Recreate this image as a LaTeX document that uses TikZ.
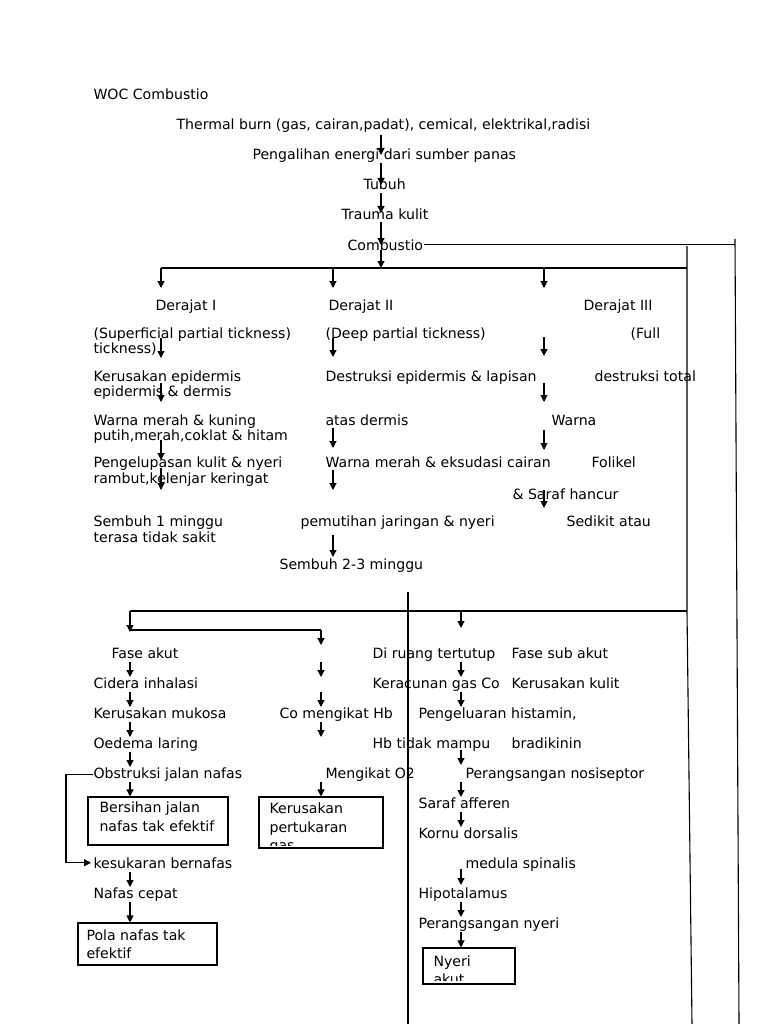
\documentclass[tikz,border=0pt]{standalone}
\usepackage{fontspec}
\setmainfont{DejaVu Sans}
\usetikzlibrary{arrows.meta,calc}
\tikzset{
>={Triangle[length=7pt,width=7pt]},
teks/.style={anchor=base west, inner sep=0pt, font=\fontsize{14.1}{16}\selectfont},
kotak/.style={draw, inner sep=0pt},
panah/.style={->, shorten <=4pt, shorten >=11pt},
}

\begin{document}
\begin{tikzpicture}[x=1pt,y=-1pt,line width=1.1pt]

    \fill[white] (0,0) rectangle (768,1024);
    \useasboundingbox (0,0) rectangle (768,1024);

    \coordinate (sumbu) at (381,0);
    \coordinate (kI) at (161,0);
    \coordinate (kII) at (333,0);
    \coordinate (kIII) at (544,0);
    \coordinate (kA) at (130,0);
    \coordinate (kB) at (321,0);
    \coordinate (kC) at (461,0);
    \coordinate (kanan) at (687,0);
    \coordinate (tepi) at (735,0);
    \coordinate (bus) at (381,268);
    \coordinate (bus2) at (130,611);
    \coordinate (simpang) at (130,630);

    % bagian atas
    \node[teks] (woc) at (93,100) {WOC Combustio};
    \node[teks] (thermal) at (176,130) {Thermal burn (gas, cairan,padat), cemical, elektrikal,radisi};
    \node[teks] (alih) at (252,160) {Pengalihan energi dari sumber panas};
    \node[teks] (tubuh) at (363,190) {Tubuh};
    \node[teks] (trauma) at (341,220) {Trauma kulit};
    \node[teks] (combustio) at (347,250) {Combustio};

    \draw[panah, shorten <=5pt, shorten >=5pt] (thermal.base -| sumbu) -- (alih.base -| sumbu);
    \draw[panah, shorten <=3pt, shorten >=5pt] (alih.base -| sumbu) -- (tubuh.base -| sumbu);
    \draw[panah, shorten <=3pt, shorten >=7pt] (tubuh.base -| sumbu) -- (trauma.base -| sumbu);
    \draw[panah, shorten <=2pt, shorten >=5pt] (trauma.base -| sumbu) -- (combustio.base -| sumbu);
    \draw[panah, shorten <=0pt, shorten >=0pt] (combustio.base -| sumbu) -- (bus);

    \draw (combustio.east) -- (combustio.east -| tepi);
    \draw (735,239) -- (739,1024);
    \draw (687,246) -- (687,611) -- (692,1024);
    \draw (bus -| kI) -- (bus -| kanan);

    % derajat luka bakar
    \node[teks] (d1) at (155,310) {Derajat I};
    \node[teks] (d2) at (328,310) {Derajat II};
    \node[teks] (d3) at (583,310) {Derajat III};

    \draw[panah, shorten <=0pt, shorten >=22pt] (bus -| kI) -- (d1.base -| kI);
    \draw[panah, shorten <=0pt, shorten >=22pt] (bus -| kII) -- (d2.base -| kII);
    \draw[panah, shorten <=0pt, shorten >=22pt] (bus -| kIII) -- (d3.base -| kIII);

    \node[teks] (sup) at (93,338) {(Superficial partial tickness)};
    \node[teks] (sup2) at (93,353) {tickness)};
    \node[teks] (deep) at (325,338) {(Deep partial tickness)};
    \node[teks] (full) at (630,338) {(Full};
    \node[teks] (ker1) at (93,381) {Kerusakan epidermis};
    \node[teks] (ker2) at (93,396) {epidermis \& dermis};
    \node[teks] (destr) at (325,381) {Destruksi epidermis \& lapisan};
    \node[teks] (total) at (594,381) {destruksi total};
    \node[teks] (warna1) at (93,425) {Warna merah \& kuning};
    \node[teks] (warna2) at (93,440) {putih,merah,coklat \& hitam};
    \node[teks] (atas) at (325,425) {atas dermis};
    \node[teks] (warna3) at (551,425) {Warna};
    \node[teks] (kelupas) at (93,467) {Pengelupasan kulit \& nyeri};
    \node[teks] (rambut) at (93,483) {rambut,kelenjar keringat};
    \node[teks] (eksudasi) at (325,467) {Warna merah \& eksudasi cairan};
    \node[teks] (folikel) at (591,467) {Folikel};
    \node[teks] (saraf) at (512,499) {\& Saraf hancur};
    \node[teks] (sembuh1) at (93,526) {Sembuh 1 minggu};
    \node[teks] (terasa) at (93,542) {terasa tidak sakit};
    \node[teks] (putih) at (300,526) {pemutihan jaringan \& nyeri};
    \node[teks] (sedikit) at (566,526) {Sedikit atau};
    \node[teks] (sembuh2) at (279,569) {Sembuh 2-3 minggu};

    \draw[panah, shorten <=0pt, shorten >=23pt] (sup.base -| kI) -- (ker1.base -| kI);
    \draw[panah, shorten <=2pt, shorten >=23pt] (ker1.base -| kI) -- (warna1.base -| kI);
    \draw[panah, shorten <=15pt, shorten >=7pt] (warna1.base -| kI) -- (kelupas.base -| kI);
    \draw[panah, shorten <=1pt, shorten >=36pt] (kelupas.base -| kI) -- (sembuh1.base -| kI);

    \draw[panah, shorten <=0pt, shorten >=24pt] (deep.base -| kII) -- (destr.base -| kII);
    \draw[panah, shorten <=3pt, shorten >=19pt] (atas.base -| kII) -- (eksudasi.base -| kII);
    \draw[panah, shorten <=3pt, shorten >=36pt] (eksudasi.base -| kII) -- (putih.base -| kII);
    \draw[panah, shorten <=9pt, shorten >=12pt] (putih.base -| kII) -- (sembuh2.base -| kII);

    \draw[panah, shorten <=-1pt, shorten >=25pt] (full.base -| kIII) -- (total.base -| kIII);
    \draw[panah, shorten <=2pt, shorten >=23pt] (total.base -| kIII) -- (warna3.base -| kIII);
    \draw[panah, shorten <=5pt, shorten >=17pt] (warna3.base -| kIII) -- (folikel.base -| kIII);
    \draw[panah, shorten <=-9pt, shorten >=18pt] (saraf.base -| kIII) -- (sedikit.base -| kIII);

    % fase akut dan sub akut
    \draw (bus2) -- (bus2 -| kanan);
    \draw (408,592) -- (408,1024);
    \draw (simpang) -- (simpang -| kB);

    \node[teks] (fase) at (111,658) {Fase akut};
    \node[teks] (ruang) at (372,658) {Di ruang tertutup};
    \node[teks] (subakut) at (511,658) {Fase sub akut};
    \node[teks] (cidera) at (93,688) {Cidera inhalasi};
    \node[teks] (racun) at (372,688) {Keracunan gas Co};
    \node[teks] (kulit) at (511,688) {Kerusakan kulit};
    \node[teks] (mukosa) at (93,718) {Kerusakan mukosa};
    \node[teks] (ikathb) at (279,718) {Co mengikat Hb};
    \node[teks] (histamin) at (418,718) {Pengeluaran histamin,};
    \node[teks] (laring) at (93,748) {Oedema laring};
    \node[teks] (mampu) at (372,748) {Hb tidak mampu};
    \node[teks] (bradi) at (511,748) {bradikinin};
    \node[teks] (obstruksi) at (93,778) {Obstruksi jalan nafas};
    \node[teks] (ikato) at (325,778) {Mengikat O2};
    \node[teks] (nosi) at (465,778) {Perangsangan nosiseptor};
    \node[teks] (afferen) at (418,808) {Saraf afferen};
    \node[teks] (kornu) at (418,838) {Kornu dorsalis};
    \node[teks] (sukar) at (93,868) {kesukaran bernafas};
    \node[teks] (medula) at (465,868) {medula spinalis};
    \node[teks] (cepat) at (93,898) {Nafas cepat};
    \node[teks] (hipo) at (418,898) {Hipotalamus};
    \node[teks] (nyeri) at (418,928) {Perangsangan nyeri};

    \node[kotak, minimum width=140pt, minimum height=48pt] (bersihan) at (158,821) {};
    \node[teks] (bersihanA) at (99,812) {Bersihan jalan};
    \node[teks] (bersihanB) at (99,831) {nafas tak efektif};
    \node[kotak, minimum width=124pt, minimum height=51pt] (tukar) at (321,822.5) {};
    \node[kotak, minimum width=139pt, minimum height=42pt] (pola) at (147.5,944) {};
    \node[teks] (polaA) at (86,940) {Pola nafas tak};
    \node[teks] (polaB) at (86,958) {efektif};
    \node[kotak, minimum width=92pt, minimum height=36pt] (akut) at (469,966) {};
    \begin{scope}
        \clip (tukar.north west) rectangle ([yshift=3.5pt]tukar.south east);
        \node[teks] (tukarA) at (269,813) {Kerusakan};
        \node[teks] (tukarB) at (269,832) {pertukaran};
        \node[teks] (tukarC) at (269,850) {gas};
    \end{scope}
    \begin{scope}
        \clip (akut.north west) rectangle ([yshift=4pt]akut.south east);
        \node[teks] (akutA) at (433,966) {Nyeri};
        \node[teks] (akutB) at (433,984) {akut};
    \end{scope}

    \draw[panah, shorten <=0pt, shorten >=26pt] (bus2) -- (fase.base -| kA);
    \draw[panah, shorten <=0pt, shorten >=13pt] (simpang -| kB) -- (fase.base -| kB);
    \draw[panah, shorten <=0pt, shorten >=30pt] (bus2 -| kC) -- (ruang.base -| kC);

    \draw[panah] (fase.base -| kA) -- (cidera.base -| kA);
    \draw[panah] (cidera.base -| kA) -- (mukosa.base -| kA);
    \draw[panah] (mukosa.base -| kA) -- (laring.base -| kA);
    \draw[panah] (laring.base -| kA) -- (obstruksi.base -| kA);
    \draw[panah, shorten >=0pt] (obstruksi.base -| kA) -- (bersihan.north -| kA);
    \draw[->, shorten >=2pt] (obstruksi.west) -- ++(-27,0) |- (sukar.west);
    \draw[panah] (sukar.base -| kA) -- (cepat.base -| kA);
    \draw[panah, shorten >=0pt] (cepat.base -| kA) -- (pola.north -| kA);

    \draw[panah] (fase.base -| kB) -- (cidera.base -| kB);
    \draw[panah] (cidera.base -| kB) -- (ikathb.base -| kB);
    \draw[panah, shorten >=41pt] (ikathb.base -| kB) -- (ikato.base -| kB);
    \draw[panah, shorten >=0pt] (ikato.base -| kB) -- (tukar.north -| kB);

    \draw[panah] (ruang.base -| kC) -- (racun.base -| kC);
    \draw[panah] (racun.base -| kC) -- (histamin.base -| kC);
    \draw[panah, shorten <=2pt, shorten >=13pt] (mampu.base -| kC) -- (nosi.base -| kC);
    \draw[panah] (nosi.base -| kC) -- (afferen.base -| kC);
    \draw[panah] (afferen.base -| kC) -- (kornu.base -| kC);
    \draw[panah, shorten <=1pt, shorten >=13pt] (medula.base -| kC) -- (hipo.base -| kC);
    \draw[panah] (hipo.base -| kC) -- (nyeri.base -| kC);
    \draw[panah, shorten >=0pt] (nyeri.base -| kC) -- (akut.north -| kC);

\end{tikzpicture}
\end{document}
